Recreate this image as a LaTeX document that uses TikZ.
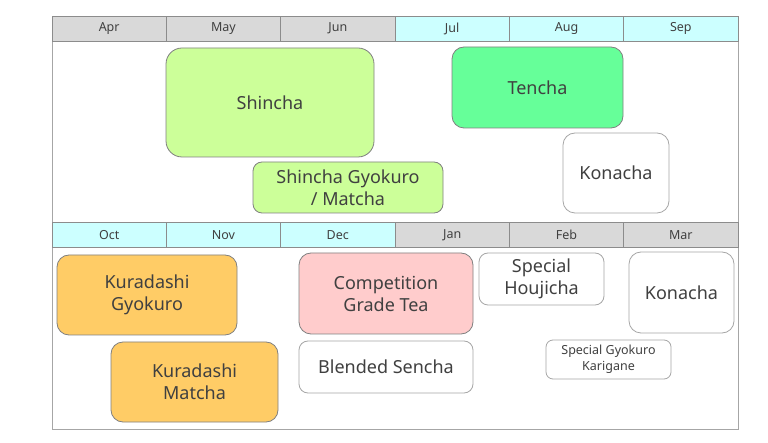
\documentclass[tikz,border=0pt]{standalone}
\usepackage{fontspec}
\setmainfont{Noto Sans}
\definecolor{hdgray}{HTML}{D9D9D9}
\definecolor{hdcyan}{HTML}{CCFFFF}
\definecolor{hdline}{HTML}{8C8C8C}
\definecolor{frame}{HTML}{A6A6A6}
\definecolor{txt}{HTML}{404040}
\definecolor{lgreen}{HTML}{CCFF99}
\definecolor{mgreen}{HTML}{66FF99}
\definecolor{orng}{HTML}{FFCC66}
\definecolor{pink}{HTML}{FFCCCC}
\definecolor{boxline}{HTML}{808080}
\definecolor{wline}{HTML}{A6A6A6}
\tikzset{
  month/.style={draw=hdline, line width=0.8pt, minimum width=114.33pt, minimum height=25pt, inner sep=0pt,
    font=\fontsize{12.5}{14}\selectfont, text=txt},
  teabox/.style={rounded corners=12pt, draw=boxline, line width=0.8pt, inner sep=0pt, align=center,
    font=\fontsize{18}{22}\selectfont, text=txt},
  whitebox/.style={teabox, draw=wline, fill=white},
}
\begin{document}
\begin{tikzpicture}[x=1pt,y=-1pt]
\useasboundingbox (0,0) rectangle (768,443);
\fill[white] (0,0) rectangle (768,443);
% frame
\draw[frame, line width=0.8pt] (52,16) rectangle (738,429);
% top header
\node[month, fill=hdgray] (apr) at (109.17,28.5) {Apr};
\node[month, fill=hdgray] (may) at (223.5,28.5) {May};
\node[month, fill=hdgray] (jun) at (337.83,28.5) {Jun};
\node[month, fill=hdcyan] (jul) at (452.17,28.5) {Jul};
\node[month, fill=hdcyan] (aug) at (566.5,28.5) {Aug};
\node[month, fill=hdcyan] (sep) at (680.83,28.5) {Sep};
% lower header
\node[month, fill=hdcyan] (oct) at (109.17,235) {Oct};
\node[month, fill=hdcyan] (nov) at (223.5,235) {Nov};
\node[month, fill=hdcyan] (dec) at (337.83,235) {Dec};
\node[month, fill=hdgray] (jan) at (452.17,235) {Jan};
\node[month, fill=hdgray] (feb) at (566.5,235) {Feb};
\node[month, fill=hdgray] (mar) at (680.83,235) {Mar};
% upper boxes
\node[teabox, fill=lgreen, minimum width=208pt, minimum height=109pt, rounded corners=16pt] (shincha) at (270,102.5) {Shincha};
\node[teabox, fill=mgreen, minimum width=171pt, minimum height=81pt] (tencha) at (537.5,87.5) {Tencha};
\node[whitebox, minimum width=106pt, minimum height=80pt] (konacha1) at (616,173) {Konacha};
\node[teabox, fill=lgreen, minimum width=190pt, minimum height=51pt, rounded corners=9pt] (sgm) at (348,187.5) {Shincha Gyokuro\\/ Matcha};
% lower boxes
\node[teabox, fill=orng, minimum width=180pt, minimum height=80pt] (kg) at (147,295) {Kuradashi\\Gyokuro};
\node[teabox, fill=orng, minimum width=167pt, minimum height=80pt] (km) at (194.5,382) {Kuradashi\\Matcha};
\node[teabox, fill=pink, minimum width=174pt, minimum height=81pt] (comp) at (386,293.5) {Competition\\Grade Tea};
\node[whitebox, minimum width=174pt, minimum height=52pt, rounded corners=9pt] (blend) at (386,367) {Blended Sencha};
\node[whitebox, minimum width=125pt, minimum height=52pt, rounded corners=9pt] (hoji) at (541.5,279) {Special\\Houjicha};
\node[whitebox, minimum width=105pt, minimum height=81pt] (konacha2) at (681.5,292.5) {Konacha};
\node[whitebox, minimum width=125pt, minimum height=39pt, rounded corners=7pt, font=\fontsize{12.5}{16}\selectfont] (kari) at (608.5,359.5) {Special Gyokuro\\Karigane};
\end{tikzpicture}
\end{document}
